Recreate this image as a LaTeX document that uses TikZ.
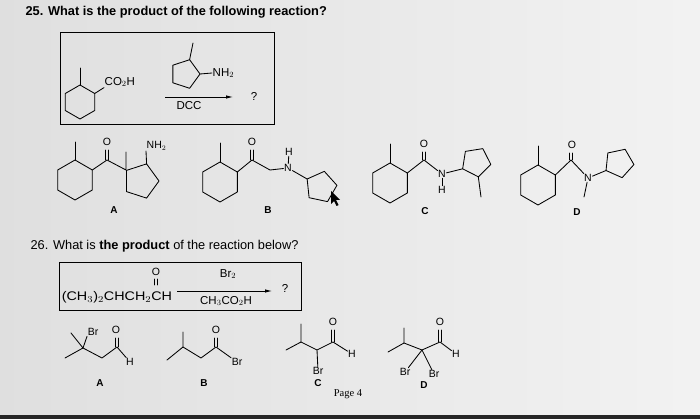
\documentclass[tikz,border=0pt]{standalone}
\usepackage{fontspec}
\setmainfont{Liberation Sans}
\newfontfamily\pagefont{Liberation Serif}
\usetikzlibrary{arrows.meta}
\tikzset{
  bondl/.style={line width=0.85pt, line cap=round, line join=round},
  atom/.style={inner sep=0.5pt, font=\fontsize{10.5}{12}\selectfont},
  lab/.style={font=\fontsize{10}{12}\selectfont\bfseries},
  qtitle/.style={anchor=west, font=\fontsize{12.8}{14}\selectfont},
  boxx/.style={draw, line width=1pt},
  rarrow/.style={line width=0.8pt, -{Latex[length=7pt,width=3.5pt]}}
}
\newcommand{\hexr}[3]{\draw[bondl] (#1,#2) +(-90:#3) -- +(-30:#3) -- +(30:#3) -- +(90:#3) -- +(150:#3) -- +(210:#3) -- cycle;}
\newcommand{\pentr}[4]{\draw[bondl] (#1,#2) +(#4:#3) -- +(#4+72:#3) -- +(#4+144:#3) -- +(#4+216:#3) -- +(#4+288:#3) -- cycle;}
\newcommand{\vdb}[3]{\draw[bondl] (#1-1.4,#2) -- (#1-1.4,#3); \draw[bondl] (#1+1.4,#2) -- (#1+1.4,#3);}
\begin{document}
\begin{tikzpicture}[x=1pt,y=-1pt]
\shade[left color=gray!25, right color=gray!10] (0,0) rectangle (700,419);
\useasboundingbox (0,0) rectangle (700,419);
\fill[black!85] (0,415) rectangle (700,419);

% ---- Question 25
\node[qtitle] (q25) at (22,12) {\textbf{25. What is the product of the following reaction?}};
\draw[boxx] (60,33) rectangle (274,125);
\hexr{80}{102}{17}
\draw[bondl] (80,85) -- (80,68);
\node[atom, anchor=west, font=\fontsize{11.5}{13}\selectfont] (co2h) at (104,82) {CO$_2$H};
\draw[bondl] (94.7,93.5) -- (co2h.south west);
\pentr{185}{74}{15}{0}
\draw[bondl] (189.6,59.7) -- (193,43);
\node[atom, anchor=west, font=\fontsize{11.5}{13}\selectfont] (nh2a) at (212,73) {NH$_2$};
\draw[bondl] (200,74) -- (nh2a.west);
\coordinate (a1s) at (165,97); \coordinate (a1e) at (233,97);
\draw[rarrow] (a1s) -- (a1e);
\node[atom, font=\fontsize{11.5}{13}\selectfont] (dcc) at (189,106) {DCC};
\node[atom, font=\fontsize{11.5}{13}\selectfont] (q1) at (254,96) {?};

% ---- Answer A
\hexr{75}{180}{20}
\draw[bondl] (75,160) -- (75,142);
\draw[bondl] (92.3,170) -- (107,160) -- (126,170) -- (126,152);
\vdb{107}{160}{150}
\node[atom] (oA) at (107,142) {O};
\pentr{141}{181}{18}{216}
\node[atom, anchor=west] (nh2A) at (146,146) {NH$_2$};
\draw[bondl] (146.6,163.9) -- (nh2A.south west);
\node[lab] (lA) at (114,210) {A};

% ---- Answer B
\hexr{220}{182}{20}
\draw[bondl] (220,162) -- (220,143);
\node[atom] (nB) at (288,168) {N};
\node[atom] (hB) at (289,152) {H};
\draw[bondl] (237.3,172) -- (252,160) -- (270,170) -- (nB);
\draw[bondl] (nB) -- (hB);
\vdb{252}{160}{150}
\node[atom] (oB) at (252,142) {O};
\pentr{321}{187}{16}{210}
\draw[bondl] (nB) -- (307.1,179);
\fill (331,191) -- (331,204) -- (334,201) -- (336.5,206) -- (338.5,205) -- (336,200) -- (340,200) -- cycle;
\node[lab] (lB) at (268,210) {B};

% ---- Answer C
\hexr{390}{183}{20}
\draw[bondl] (390,163) -- (390,144);
\node[atom] (nC) at (442,174) {N};
\node[atom] (hC) at (442,190) {H};
\draw[bondl] (407.3,173) -- (424,160) -- (nC);
\draw[bondl] (nC) -- (hC);
\vdb{424}{160}{152}
\node[atom] (oC) at (424,144) {O};
\pentr{476}{162}{15}{153}
\draw[bondl] (nC) -- (462.6,168.8);
\draw[bondl] (478.3,176.8) -- (481,197);
\node[lab] (lC) at (425,211) {C};

% ---- Answer D
\hexr{538}{185}{20}
\draw[bondl] (538,165) -- (538,146);
\node[atom] (nD) at (588,178) {N};
\draw[bondl] (555.3,175) -- (571,160) -- (nD);
\vdb{571}{160}{153}
\node[atom] (oD) at (572,145) {O};
\pentr{619}{163}{15}{150}
\draw[bondl] (nD) -- (606,170.5);
\draw[bondl] (nD) -- (584,197);
\node[lab] (lD) at (577,212) {D};

% ---- Question 26
\node[qtitle] (q26) at (27,246) {26. What is \textbf{the product} of the reaction below?};
\draw[boxx] (59,262) rectangle (301,310);
\node[atom, anchor=west, xscale=1.15, font=\fontsize{12.5}{14}\selectfont] (subs) at (61,297) {(CH$_3$)$_2$CHCH$_2$CH};
\node[atom] (oS) at (156,272) {O};
\vdb{156}{279}{285}
\coordinate (a2s) at (177,291); \coordinate (a2e) at (272,291);
\draw[rarrow] (a2s) -- (a2e);
\node[atom, font=\fontsize{11.5}{13}\selectfont] (br2) at (228,274) {Br$_2$};
\node[atom, font=\fontsize{11.5}{13}\selectfont] (acoh) at (226,301) {CH$_3$CO$_2$H};
\node[atom, font=\fontsize{11.5}{13}\selectfont] (q2) at (285,288) {?};

% ---- 26 A
\node[atom] (brA) at (93,332) {Br};
\node[atom] (o2A) at (116,330) {O};
\node[atom] (h2A) at (130,362) {H};
\draw[bondl] (71,333) -- (83,348) -- (65,358);
\draw[bondl] (83,348) -- (brA.south west);
\draw[bondl] (83,348) -- (102,358) -- (117,347) -- (h2A);
\vdb{117}{347}{338}
\node[lab] (l2A) at (100,383) {A};

% ---- 26 B
\node[atom] (brB) at (237,362) {Br};
\node[atom] (o2B) at (216,330) {O};
\draw[bondl] (167,360) -- (183,347) -- (183,332);
\draw[bondl] (183,347) -- (201,358) -- (216,347) -- (brB);
\vdb{216}{347}{338}
\node[lab] (l2B) at (204,383) {B};

% ---- 26 C
\node[atom] (brC) at (318,371) {Br};
\node[atom] (o2C) at (333,322) {O};
\node[atom] (h2C) at (352,354) {H};
\draw[bondl] (286,350) -- (301,342) -- (301,324);
\draw[bondl] (301,342) -- (317,350) -- (333,342) -- (h2C);
\draw[bondl] (317,350) -- (brC);
\vdb{333}{342}{330}
\node[lab] (l2C) at (318,383) {C};
\node[atom, font=\pagefont\fontsize{10.5}{12}\selectfont] (page) at (348,394) {Page 4};

% ---- 26 D
\node[atom] (brD1) at (405,372) {Br};
\node[atom] (brD2) at (434,374) {Br};
\node[atom] (o2D) at (440,322) {O};
\node[atom] (h2D) at (456,354) {H};
\draw[bondl] (388,352) -- (404,343) -- (404,328);
\draw[bondl] (404,343) -- (422,350) -- (440,342) -- (h2D);
\draw[bondl] (422,350) -- (brD1);
\draw[bondl] (422,350) -- (brD2);
\vdb{440}{342}{330}
\node[lab] (l2D) at (424,385) {D};
\end{tikzpicture}
\end{document}
